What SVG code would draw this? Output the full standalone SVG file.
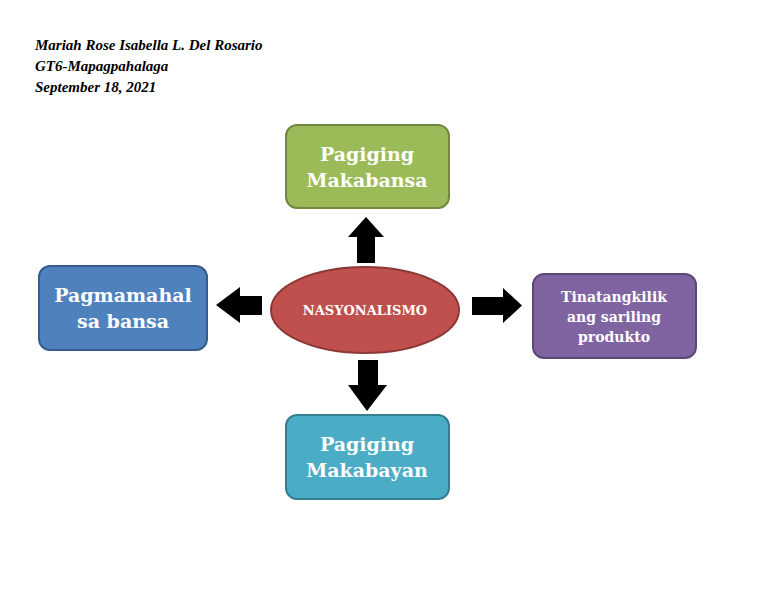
<svg xmlns="http://www.w3.org/2000/svg" width="768" height="594" viewBox="0 0 768 594">
<style>
.box{stroke-width:2}
.t{font-family:"DejaVu Serif",serif;font-weight:bold;fill:#fff;text-anchor:middle}
.h{font-family:"Liberation Serif",serif;font-style:italic;font-weight:bold;font-size:15px;fill:#000}
.ar{fill:#000}
</style>
<rect width="768" height="594" fill="#fff"/>
<g id="header">
<text class="h" x="35" y="50">Mariah Rose Isabella L. Del Rosario</text>
<text class="h" x="35" y="71">GT6-Mapagpahalaga</text>
<text class="h" x="35" y="92">September 18, 2021</text>
</g>
<g id="connectors">
<polygon class="ar" points="357,263 375,263 375,237 384,237 366,217 348,237 357,237"/>
<polygon class="ar" points="262,296 262,315 240,315 240,323 216,305 240,287 240,296"/>
<polygon class="ar" points="472,297 503,297 503,288 522,305.5 503,323 503,315 472,315"/>
<polygon class="ar" points="358,360 378,360 378,385 387,385 367,411 348,385 358,385"/>
</g>
<g id="center">
<ellipse cx="365" cy="310" rx="94" ry="43" fill="#c0504d" stroke="#8c3836" stroke-width="2"/>
<text class="t" x="365" y="315" font-size="13">NASYONALISMO</text>
</g>
<g id="top">
<rect class="box" x="286" y="125" width="163" height="83" rx="11" fill="#9bbb59" stroke="#71893f"/>
<text class="t" x="367" y="161" font-size="19">Pagiging</text>
<text class="t" x="367" y="187" font-size="19">Makabansa</text>
</g>
<g id="left">
<rect class="box" x="39" y="266" width="168" height="84" rx="11" fill="#4f81bd" stroke="#385d8a"/>
<text class="t" x="123" y="302" font-size="19">Pagmamahal</text>
<text class="t" x="123" y="328" font-size="19">sa bansa</text>
</g>
<g id="right">
<rect class="box" x="533" y="274" width="163" height="84" rx="11" fill="#8064a2" stroke="#5c4776"/>
<text class="t" x="614" y="302" font-size="14">Tinatangkilik</text>
<text class="t" x="614" y="322" font-size="14">ang sariling</text>
<text class="t" x="614" y="342" font-size="14">produkto</text>
</g>
<g id="bottom">
<rect class="box" x="286" y="415" width="163" height="84" rx="11" fill="#4bacc6" stroke="#357d91"/>
<text class="t" x="367" y="451" font-size="19">Pagiging</text>
<text class="t" x="367" y="477" font-size="19">Makabayan</text>
</g>
</svg>
